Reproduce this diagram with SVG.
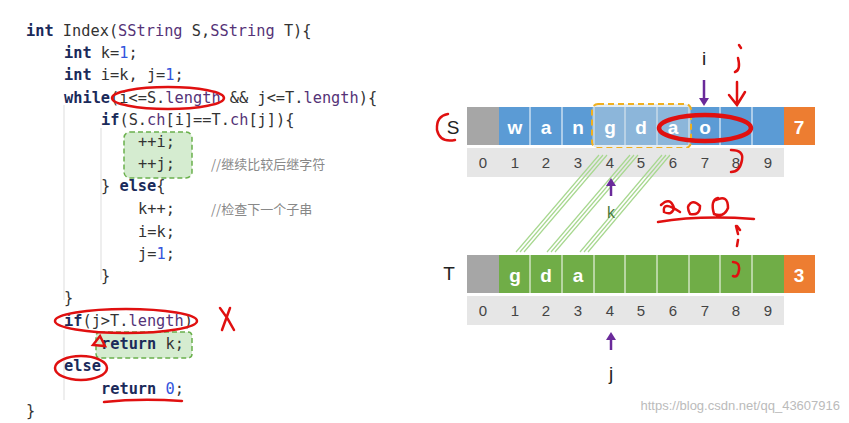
<svg xmlns="http://www.w3.org/2000/svg" width="849" height="423" viewBox="0 0 849 423">
<style>
.c{font-family:"DejaVu Sans Mono","Liberation Mono",monospace;font-size:15.3px;fill:#333}
.k{font-weight:bold;fill:#1a2a5a}
.n{fill:#3355dd}
.p{fill:#553377}
.cm{font-family:"Noto Sans CJK SC",sans-serif;font-size:13px;fill:#888}
.cell{font-family:"Liberation Sans",sans-serif;font-size:19px;fill:#fff;text-anchor:middle;font-weight:bold}
.idx{font-family:"Liberation Sans",sans-serif;font-size:15px;fill:#444;text-anchor:middle}
.lab{font-family:"Liberation Sans",sans-serif;font-size:19px;fill:#222;text-anchor:middle}
.red{fill:none;stroke:#e01010;stroke-width:2.5;stroke-linecap:round}
.arr{stroke:#6a2a9a;stroke-width:2.5}
</style>
<rect width="849" height="423" fill="#fff"/>
<g id="code">
<rect x="124" y="132" width="68" height="46" rx="6" fill="#d5ecd0" stroke="#6ab04c" stroke-width="1.5" stroke-dasharray="5,3"/>
<rect x="96" y="332" width="96" height="26" rx="4" fill="#d5ecd0" stroke="#6ab04c" stroke-width="1.5" stroke-dasharray="5,3"/>
<line x1="64" y1="105" x2="64" y2="300" stroke="#ddd"/>
<line x1="101" y1="128" x2="101" y2="280" stroke="#ddd"/>
<line x1="64" y1="330" x2="64" y2="400" stroke="#ddd"/>
<text class="c" x="26" y="36"><tspan class="k">int</tspan> Index(<tspan class="p">SString</tspan> S,<tspan class="p">SString</tspan> T){</text>
<text class="c" x="64" y="58"><tspan class="k">int</tspan> k=<tspan class="n">1</tspan>;</text>
<text class="c" x="64" y="80"><tspan class="k">int</tspan> i=k, j=<tspan class="n">1</tspan>;</text>
<text class="c" x="64" y="103"><tspan class="k">while</tspan>(i&lt;=S.<tspan class="p">length</tspan> &amp;&amp; j&lt;=T.<tspan class="p">length</tspan>){</text>
<text class="c" x="101" y="125"><tspan class="k">if</tspan>(S.<tspan class="p">ch</tspan>[i]==T.<tspan class="p">ch</tspan>[j]){</text>
<text class="c" x="138" y="147">++i;</text>
<text class="c" x="138" y="169">++j;</text>
<text class="cm" x="211" y="169">//继续比较后继字符</text>
<text class="c" x="101" y="191">} <tspan class="k">else</tspan>{</text>
<text class="c" x="138" y="214">k++;</text>
<text class="cm" x="211" y="214">//检查下一个子串</text>
<text class="c" x="138" y="237">i=k;</text>
<text class="c" x="138" y="259">j=<tspan class="n">1</tspan>;</text>
<text class="c" x="101" y="281">}</text>
<text class="c" x="64" y="303">}</text>
<text class="c" x="64" y="326"><tspan class="k">if</tspan>(j&gt;T.<tspan class="p">length</tspan>)</text>
<text class="c" x="101" y="349"><tspan class="k">return</tspan> k;</text>
<text class="c" x="64" y="371"><tspan class="k">else</tspan></text>
<text class="c" x="101" y="394"><tspan class="k">return</tspan> <tspan class="n">0</tspan>;</text>
<text class="c" x="26" y="416">}</text>
</g>
<g id="S">
<rect x="467" y="107" width="32" height="38" fill="#a6a6a6"/>
<rect x="499" y="107" width="285" height="38" fill="#5b9bd5"/>
<rect x="784" y="107" width="31" height="38" fill="#ed7d31"/>
<g stroke="#fff" stroke-width="1"><line x1="530" y1="107" x2="530" y2="145"/><line x1="562" y1="107" x2="562" y2="145"/><line x1="594" y1="107" x2="594" y2="145"/><line x1="625" y1="107" x2="625" y2="145"/><line x1="657" y1="107" x2="657" y2="145"/><line x1="689" y1="107" x2="689" y2="145"/><line x1="720" y1="107" x2="720" y2="145"/><line x1="752" y1="107" x2="752" y2="145"/></g>
<rect x="592" y="104" width="99" height="44" rx="6" fill="#c8d8e0" fill-opacity="0.45" stroke="#f0b020" stroke-width="2" stroke-dasharray="6,4"/>
<text class="lab" x="453" y="134">S</text>
<g class="cell"><text x="515" y="134">w</text><text x="546" y="134">a</text><text x="578" y="134">n</text><text x="610" y="134">g</text><text x="641" y="134">d</text><text x="673" y="134">a</text><text x="705" y="134">o</text><text x="799" y="134">7</text></g>
<rect x="467" y="148" width="317" height="29" fill="#e6e6e6"/>
<g class="idx"><text x="483" y="168">0</text><text x="515" y="168">1</text><text x="546" y="168">2</text><text x="578" y="168">3</text><text x="610" y="168">4</text><text x="641" y="168">5</text><text x="673" y="168">6</text><text x="705" y="168">7</text><text x="736" y="168">8</text><text x="768" y="168">9</text></g>
</g>
<g id="T">
<rect x="467" y="255" width="32" height="38" fill="#a6a6a6"/>
<rect x="499" y="255" width="285" height="38" fill="#70ad47"/>
<rect x="784" y="255" width="31" height="38" fill="#ed7d31"/>
<g stroke="#fff" stroke-width="1"><line x1="530" y1="255" x2="530" y2="293"/><line x1="562" y1="255" x2="562" y2="293"/><line x1="594" y1="255" x2="594" y2="293"/><line x1="625" y1="255" x2="625" y2="293"/><line x1="657" y1="255" x2="657" y2="293"/><line x1="689" y1="255" x2="689" y2="293"/><line x1="720" y1="255" x2="720" y2="293"/><line x1="752" y1="255" x2="752" y2="293"/></g>
<text class="lab" x="449" y="280">T</text>
<g class="cell"><text x="515" y="282">g</text><text x="546" y="282">d</text><text x="578" y="282">a</text><text x="799" y="282">3</text></g>
<rect x="467" y="296" width="317" height="29" fill="#e6e6e6"/>
<g class="idx"><text x="483" y="316">0</text><text x="515" y="316">1</text><text x="546" y="316">2</text><text x="578" y="316">3</text><text x="610" y="316">4</text><text x="641" y="316">5</text><text x="673" y="316">6</text><text x="705" y="316">7</text><text x="736" y="316">8</text><text x="768" y="316">9</text></g>
</g>
<g id="connectors" fill="none" stroke="#a8d890" stroke-width="1.2">
<path d="M599 155 L516 252 M603 155 L520 252 M607 155 L524 252"/>
<path d="M630 155 L547 252 M634 155 L551 252 M638 155 L555 252"/>
<path d="M662 155 L580 252 M666 155 L584 252 M670 155 L588 252"/>
</g>
<g id="pointers">
<text class="lab" x="704" y="65">i</text>
<line class="arr" x1="704" y1="80" x2="704" y2="100"/><path d="M699 98 L704 106 L709 98 Z" fill="#6a2a9a"/>
<line class="arr" x1="611" y1="196" x2="611" y2="184"/><path d="M606 186 L611 178 L616 186 Z" fill="#6a2a9a"/>
<text x="611" y="218" font-family="Liberation Sans,sans-serif" font-size="16" fill="#4a7a3a" text-anchor="middle">k</text>
<line class="arr" x1="611" y1="350" x2="611" y2="338"/><path d="M606 340 L611 332 L616 340 Z" fill="#6a2a9a"/>
<text class="lab" x="611" y="380">j</text>
</g>
<g id="annotations" class="red">
<ellipse cx="168" cy="98" rx="56" ry="11"/>
<ellipse cx="126" cy="321" rx="71" ry="12"/>
<path d="M230 308 L222 330 M220 308 Q228 318 234 330"/>
<path d="M93 345 L100 336 L105 346 Z"/>
<ellipse cx="81" cy="368" rx="26" ry="12"/>
<path d="M104 402 Q140 398 182 401"/>
<path d="M448 114 Q436 116 437 130 Q440 143 455 140"/>
<ellipse cx="705" cy="128" rx="46" ry="13" stroke-width="4.5"/>
<path d="M739 45 L741 48 M738 58 Q741 70 735 72 M737 82 L737 105 M729 95 L737 105 L745 92"/>
<path d="M731 150 Q744 150 742 160 Q740 172 731 172"/>
<path d="M661 205 Q670 196 674 208 Q672 216 664 212 Q662 200 680 212 M688 207 Q692 198 700 206 Q700 216 690 214 Q686 206 690 204 M716 200 Q728 194 728 208 Q724 218 714 214 Q710 200 718 198 M658 222 Q700 215 754 219"/>
<path d="M736 226 L738 234 M740 230 L737 226 M738 240 L737 246 M733 262 Q740 262 739 270 Q738 278 733 276"/>
</g>
<text x="840" y="410" font-family="Liberation Sans,sans-serif" font-size="13" fill="#bbb" text-anchor="end">https://blog.csdn.net/qq_43607916</text>
</svg>
